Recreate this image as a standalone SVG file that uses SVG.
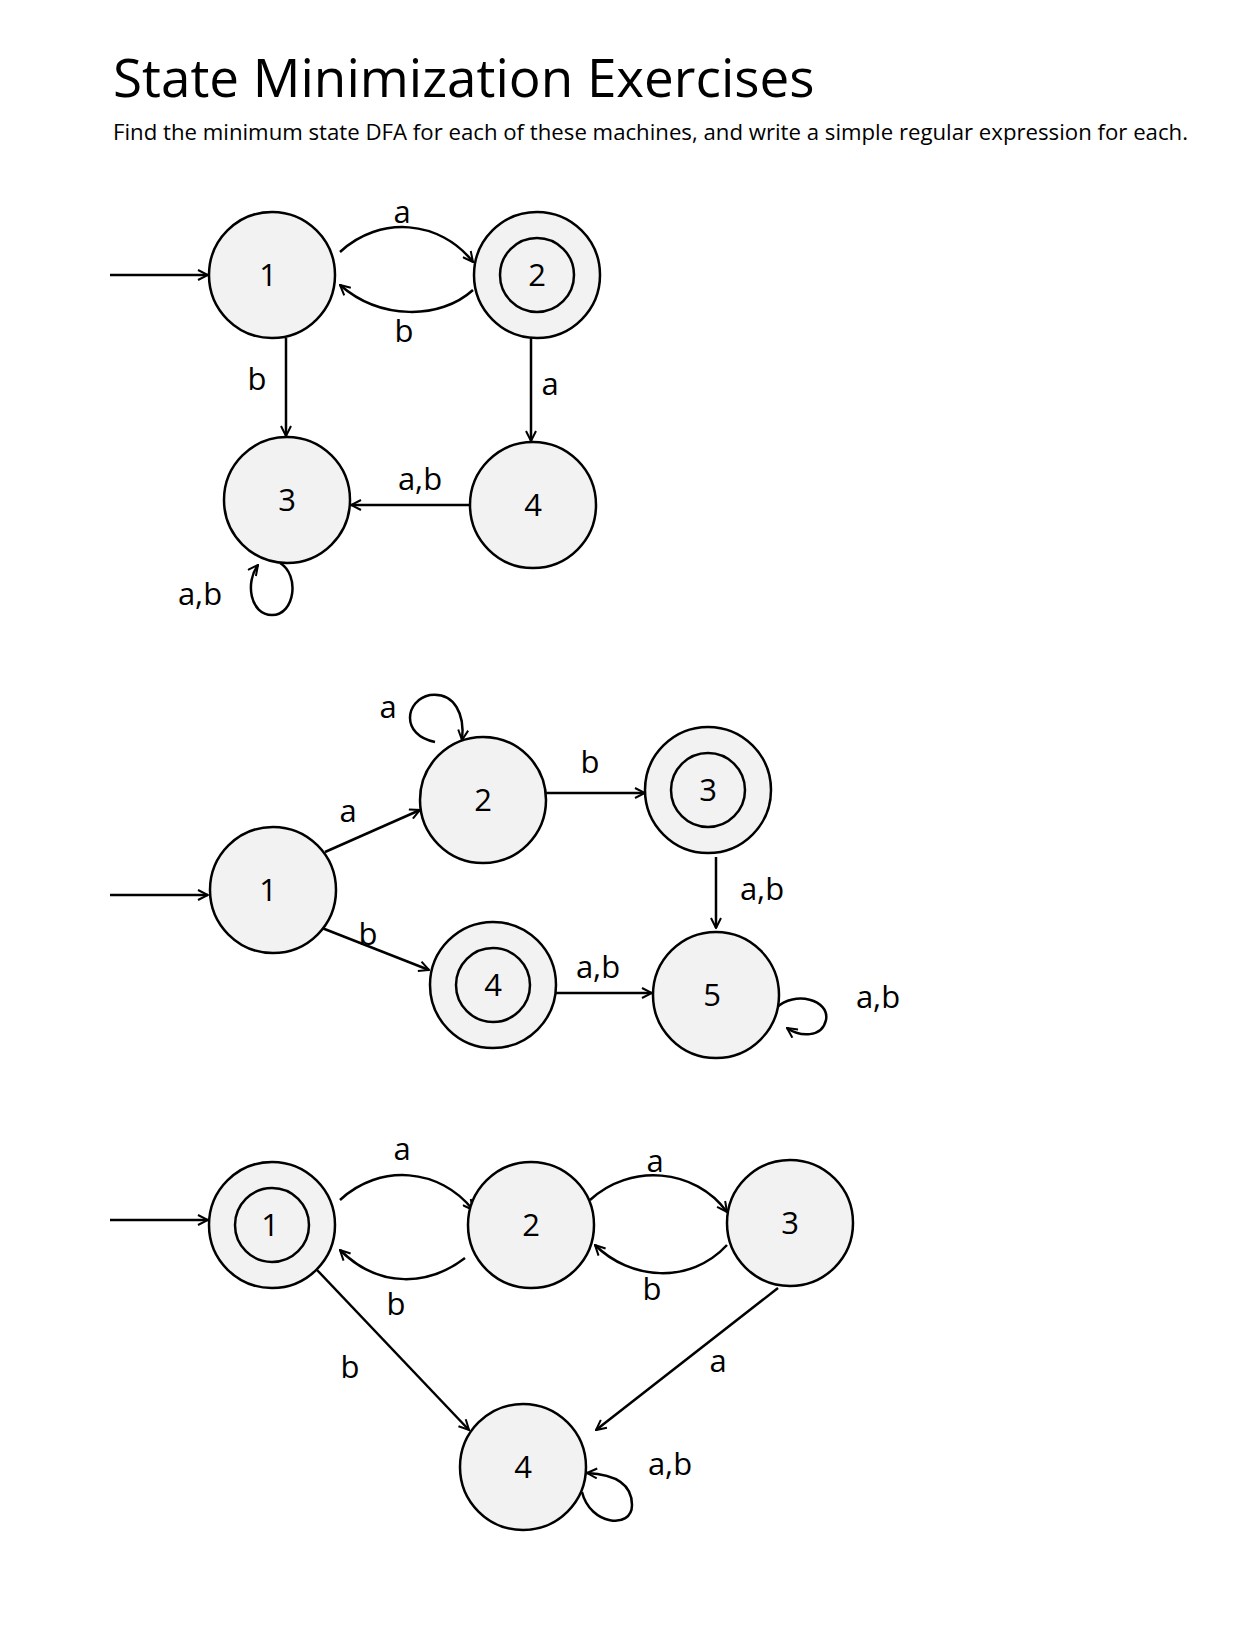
<svg xmlns="http://www.w3.org/2000/svg" width="1234" height="1628" viewBox="0 0 1234 1628">
<style>
.n{fill:#f2f2f2;stroke:#000;stroke-width:2.5}
.i{fill:none;stroke:#000;stroke-width:2.5}
.e{fill:none;stroke:#000;stroke-width:2.5;marker-end:url(#ah)}
text{font-family:"Open Sans","Liberation Sans",sans-serif;fill:#000}
.l{font-size:31px;text-anchor:middle}
</style>
<defs><marker id="ah" viewBox="0 0 12 12" refX="11" refY="6" markerWidth="12" markerHeight="12" markerUnits="userSpaceOnUse" orient="auto"><path d="M1,1 L11,6 L1,11" fill="none" stroke="#000" stroke-width="2"/></marker></defs>
<rect width="1234" height="1628" fill="#fff"/>
<text x="113" y="97" font-size="53">State Minimization Exercises</text>
<text x="113" y="140" font-size="22.2">Find the minimum state DFA for each of these machines, and write a simple regular expression for each.</text>
<g id="connectors">
<path class="e" d="M110,275 H208"/>
<path class="e" d="M340,252 C380,215 440,220 473,262"/>
<path class="e" d="M473,290 C440,320 380,320 340,285"/>
<path class="e" d="M286,338 V436"/>
<path class="e" d="M531,338 V441"/>
<path class="e" d="M470,505 H351"/>
<path class="e" d="M280,563 C300,575 295,615 272,615 C250,615 245,582 258,565"/>
<path class="e" d="M110,895 H208"/>
<path class="e" d="M325,852 L420,810"/>
<path class="e" d="M322,928 L429,970"/>
<path class="e" d="M546,793 H645"/>
<path class="e" d="M716,857 V928"/>
<path class="e" d="M556,993 H652"/>
<path class="e" d="M435,742 C400,735 405,700 430,695 C455,692 465,715 462,740"/>
<path class="e" d="M776,1008 C795,990 830,1000 826,1020 C822,1038 800,1037 787,1028"/>
<path class="e" d="M110,1220 H208"/>
<path class="e" d="M340,1200 C380,1163 440,1168 473,1210"/>
<path class="e" d="M465,1258 C430,1285 380,1290 340,1250"/>
<path class="e" d="M590,1200 C630,1163 695,1168 727,1212"/>
<path class="e" d="M727,1245 C690,1285 630,1280 595,1245"/>
<path class="e" d="M317,1270 L469,1430"/>
<path class="e" d="M778,1288 L596,1430"/>
<path class="e" d="M582,1492 C590,1525 632,1530 632,1505 C632,1480 607,1474 587,1473"/>
</g>
<g class="l">
<text x="402" y="223">a</text><text x="404" y="342">b</text><text x="257" y="390">b</text><text x="550" y="395">a</text><text x="420" y="490">a,b</text><text x="200" y="605">a,b</text>
<text x="388" y="718">a</text><text x="348" y="822">a</text><text x="368" y="945">b</text><text x="590" y="773">b</text><text x="762" y="900">a,b</text><text x="598" y="978">a,b</text><text x="878" y="1008">a,b</text>
<text x="402" y="1160">a</text><text x="396" y="1315">b</text><text x="655" y="1172">a</text><text x="652" y="1300">b</text><text x="350" y="1378">b</text><text x="718" y="1372">a</text><text x="670" y="1475">a,b</text>
</g>
<g id="d1n1"><circle class="n" cx="272" cy="275" r="63"/><text class="l" x="268" y="286">1</text></g>
<g id="d1n2"><circle class="n" cx="537" cy="275" r="63"/><circle class="i" cx="537" cy="275" r="37"/><text class="l" x="537" y="286">2</text></g>
<g id="d1n3"><circle class="n" cx="287" cy="500" r="63"/><text class="l" x="287" y="511">3</text></g>
<g id="d1n4"><circle class="n" cx="533" cy="505" r="63"/><text class="l" x="533" y="516">4</text></g>
<g id="d2n1"><circle class="n" cx="273" cy="890" r="63"/><text class="l" x="268" y="901">1</text></g>
<g id="d2n2"><circle class="n" cx="483" cy="800" r="63"/><text class="l" x="483" y="811">2</text></g>
<g id="d2n3"><circle class="n" cx="708" cy="790" r="63"/><circle class="i" cx="708" cy="790" r="37"/><text class="l" x="708" y="801">3</text></g>
<g id="d2n4"><circle class="n" cx="493" cy="985" r="63"/><circle class="i" cx="493" cy="985" r="37"/><text class="l" x="493" y="996">4</text></g>
<g id="d2n5"><circle class="n" cx="716" cy="995" r="63"/><text class="l" x="712" y="1006">5</text></g>
<g id="d3n1"><circle class="n" cx="272" cy="1225" r="63"/><circle class="i" cx="272" cy="1225" r="37"/><text class="l" x="270" y="1236">1</text></g>
<g id="d3n2"><circle class="n" cx="531" cy="1225" r="63"/><text class="l" x="531" y="1236">2</text></g>
<g id="d3n3"><circle class="n" cx="790" cy="1223" r="63"/><text class="l" x="790" y="1234">3</text></g>
<g id="d3n4"><circle class="n" cx="523" cy="1467" r="63"/><text class="l" x="523" y="1478">4</text></g>
</svg>
